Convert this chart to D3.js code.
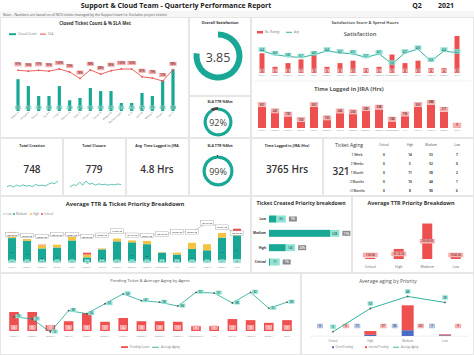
<!DOCTYPE html>
<html><head><meta charset="utf-8">
<script src="https://cdn.jsdelivr.net/npm/d3@7"></script>
<style>
html,body{margin:0;padding:0;background:#fff;}
svg{display:block;font-family:"Open Sans","Noto Sans",sans-serif;}
</style></head><body>
<svg id="c" width="474" height="355"></svg>
<script>
// ---------------- DATA ----------------
const agents = ["Abdul H","Ahmed A","Daniel T","Sajid S","Umer I","Mohsin A","Nabil S","Usman C","Samer R","Waqas M","Muhammad F","Ali R","Latif M","Wasay S","Ehsan I","Jalil S"];
const closedCount = [83,65,39,39,65,28,34,60,52,52,21,21,47,39,80,109];
const slaPct = [97,95,97,95,100,93,78,98,88,96,100,100,82,79,72,98];
const ratingsCount = [16,5,8,11,16,5,8,10,4,5,15,8,10,4,4,30];
const avgRating = [4.4,4.0,3.8,3.7,4.0,4.4,4.2,4.1,3.7,4.1,3.0,4.2,4.6,3.3,4.4,4.2];
const hoursLogged = [351,247,192,103,352,130,245,230,283,308,108,195,353,388,271,9];
const creationTrend = [48,52,47,53,49,54,50,52,48,55,51,53,50,56,60,58,66];
const closureTrend = [40,52,48,66,50,72,55,60,50,57,52,55,50,54,51,56,53];
const kpiLabels = ["Total Creation","Total Closure","Avg. Time Logged in JIRA","SLA TTR %Met","Time Logged in JIRA (Hrs)"];
const kpiValues = ["748","779","4.8 Hrs","99%","3765 Hrs"];
const overallSatisfaction = 3.85;
const slaTTRMet = 92;
const slaTTIRMet = 99;
const agingRows = ["1 Week","2 Weeks","1 Month","2 Months",">2 Months"];
const agingCols = ["Critical","High","Medium","Low"];
const agingCritical = [0,0,0,0,0];
const agingHigh = [14,5,11,10,8];
const agingMedium = [53,52,58,44,90];
const agingLow = [7,0,2,1,6];
const agingTotal = 321;
const prioLow = [5,4,3,4,5,2,3,5,4,4,2,2,4,4,6,8];
const prioMedium = [48,43,28,29,43,10,26,41,40,36,20,16,26,23,48,51];
const prioHigh = [12,4,7,6,8,6,2,6,4,7,1,4,13,13,10,9];
const prioCritical = [1,0,1,0,0,4,0,0,0,0,0,0,0,0,0,5];
const avgTTRAgent = [58,55,52,58,58,52,56,70,56,55,60,67,67,97,83,63];
const priorities = ["Critical","High","Medium","Low"];
const createdPriority = ["Low","Medium","High","Critical"];
const createdCount = [65,528,145,11];
const createdPct = ["9%","71%","20%","1%"];
const ttrPriorityHours = [7.85,65.24,230.0,29.76];
const pendingCount = [35,35,11,18,33,17,24,18,18,17,9,9,22,20,15,20];
const avgAgingAgent = [20,17,0,28,24,37,50,41,39,34,52,51,38,52,31,39];
const clientPending = [0,11,56,7];
const internalPending = [0,37,241,9];
const avgAgingPriority = [5,32,46,39];

// ---------------- HELPERS ----------------
const svg = d3.select("#c");
const TEAL="#1aa896", RED="#ee5050", PINK="#f6b1b1", LTEAL="#8fe2d4", YEL="#f5c244", BLUE="#4a6cc4", DARK="#333", GRAY="#666";
svg.append("rect").attr("width",474).attr("height",355).attr("fill","#e6e6e6");
function panel(x,y,w,h){ svg.append("rect").attr("x",x).attr("y",y).attr("width",w).attr("height",h).attr("fill","#fff"); }
function txt(x,y,s,size,o={}){
  return svg.append("text").attr("x",x).attr("y",y).attr("font-size",size)
    .attr("text-anchor",o.anchor||"middle").attr("dominant-baseline","central")
    .attr("font-weight",o.weight||"normal").attr("fill",o.fill||DARK).text(s);
}
function box(cx,cy,s,size,fill,tcol,o={}){
  const w = o.w || (String(s).length*size*0.62+2.2), h = o.h || size+1.8;
  svg.append("rect").attr("x",cx-w/2).attr("y",cy-h/2).attr("width",w).attr("height",h)
    .attr("fill",fill).attr("stroke",o.stroke||"none").attr("stroke-width",0.4);
  txt(cx,cy+0.2,s,size,{fill:tcol,weight:o.weight||"600"});
}
const fmtH = h => { const H=Math.floor(h), mm=(h-H)*60, M=Math.floor(mm), S=Math.round((mm-M)*60)%60;
  return H+":"+String(M).padStart(2,"0")+":"+String(S).padStart(2,"0"); };

// ---------------- HEADER ----------------
svg.append("rect").attr("x",0).attr("y",0).attr("width",474).attr("height",11).attr("fill","#fff");
svg.append("rect").attr("x",0).attr("y",11).attr("width",474).attr("height",6).attr("fill","#f6f6f6");
txt(176,5.5,"Support & Cloud Team - Quarterly Performance Report",7,{weight:"bold",fill:"#222"});
txt(417,5.5,"Q2",7,{weight:"bold",fill:"#222"});
txt(446,5.5,"2021",7,{weight:"bold",fill:"#222"});
txt(3,14.3,"Note: - Numbers are based on all NCS tickets managed by the Support team (ie. Excludes project tickets)",3.4,{anchor:"start",fill:"#555"});

// ---------------- PANELS ----------------
[[1,18,187,119],[190,18,60,77],[190,97,60,40],[252,18,221,119],
 [1,139,61,56],[64,139,61,56],[127,139,61,56],[190,139,60,56],[252,139,70,56],[324,139,149,56],
 [1,197,249,75],[252,197,99,75],[353,197,120,75],[1,274,299,80],[302,274,171,80]].forEach(p=>panel(...p));

// ---------------- P1 Closed ticket & SLA ----------------
txt(95,22.5,"Closed Ticket Count & % SLA Met",4.4,{weight:"bold",fill:"#333"});
svg.append("rect").attr("x",9).attr("y",33.2).attr("width",7).attr("height",2).attr("fill",TEAL);
txt(18,34.2,"Closed Count",3,{anchor:"start",fill:"#777"});
svg.append("rect").attr("x",40).attr("y",33.6).attr("width",6).attr("height",1).attr("fill",RED);
txt(48,34.2,"SLA",3,{anchor:"start",fill:"#777"});
const x1 = d3.scalePoint().domain(agents).range([18,173]);
const y1 = d3.scaleLinear().domain([0,120]).range([111,65]);
const y1s = d3.scaleLinear().domain([0,100]).range([112,69]);
svg.append("g").selectAll("rect").data(agents).join("rect")
  .attr("x",d=>x1(d)-1.6).attr("width",3.2).attr("y",(d,i)=>y1(closedCount[i])).attr("height",(d,i)=>111-y1(closedCount[i])).attr("fill",TEAL);
agents.forEach((a,i)=>box(x1(a),107.5,closedCount[i],2.6,LTEAL,"#1a5f55",{w:6,h:3.6}));
const l1 = d3.line().x((d,i)=>x1(agents[i])).y(d=>y1s(d));
svg.append("path").attr("d",l1(slaPct)).attr("fill","none").attr("stroke",RED).attr("stroke-width",0.9);
agents.forEach((a,i)=>{ svg.append("circle").attr("cx",x1(a)).attr("cy",y1s(slaPct[i])).attr("r",0.9).attr("fill",RED);
  box(x1(a),y1s(slaPct[i])-6,slaPct[i]+"%",2.7,PINK,"#7a2020",{h:4.2}); });
agents.forEach(a=>{ svg.append("text").attr("transform",`translate(${x1(a)+1},${113}) rotate(-40)`).attr("font-size",2.6)
  .attr("text-anchor","end").attr("fill","#777").text(a); });

// ---------------- P2 Overall Satisfaction ----------------
txt(220,22.5,"Overall Satisfaction",3.8,{weight:"bold"});
const arcBig = d3.arc().innerRadius(18.5).outerRadius(24.5).startAngle(0);
svg.append("path").attr("transform","translate(218,56)").attr("d",arcBig({endAngle:2*Math.PI*overallSatisfaction/5})).attr("fill",TEAL);
txt(218,57,overallSatisfaction.toFixed(2),12.5,{fill:"#444"});

// ---------------- P3 SLA TTR donut ----------------
txt(220,101,"SLA TTR %Met",3.6,{weight:"bold"});
function ring(cx,cy,r,pct){
  const a = d3.arc().innerRadius(r-3.2).outerRadius(r);
  svg.append("path").attr("transform",`translate(${cx},${cy})`).attr("d",a({startAngle:0,endAngle:2*Math.PI*pct/100})).attr("fill",TEAL);
  svg.append("path").attr("transform",`translate(${cx},${cy})`).attr("d",d3.arc().innerRadius(r-2.6).outerRadius(r+0.6)({startAngle:2*Math.PI*pct/100,endAngle:2*Math.PI})).attr("fill","#444");
  txt(cx,cy+0.5,pct+"%",9,{fill:"#444"});
}
ring(218,122,14.5,slaTTRMet);

// ---------------- P4 Satisfaction & Hours ----------------
txt(365,22.5,"Satisfaction Score & Spend Hours",4.2,{weight:"600"});
txt(360,33.5,"Satisfaction",5.8,{fill:"#555",weight:"600"});
svg.append("rect").attr("x",257).attr("y",31).attr("width",6).attr("height",2.5).attr("fill",RED);
txt(265,32.3,"No. Ratings",2.8,{anchor:"start",fill:"#777"});
svg.append("rect").attr("x",286).attr("y",31.8).attr("width",6).attr("height",0.9).attr("fill",TEAL);
txt(294,32.3,"Avg",2.8,{anchor:"start",fill:"#777"});
const x4 = d3.scalePoint().domain(agents).range([262,457]);
const y4 = d3.scaleLinear().domain([0,30]).range([73,36]);
const y4a = d3.scaleLinear().domain([2.5,5]).range([68.6,45.4]);
svg.append("g").selectAll("rect").data(agents).join("rect")
  .attr("x",d=>x4(d)-2.5).attr("width",5).attr("y",(d,i)=>y4(ratingsCount[i])).attr("height",(d,i)=>73-y4(ratingsCount[i])).attr("fill",RED);
agents.forEach((a,i)=>box(x4(a),70.5,ratingsCount[i],2.5,PINK,"#7a2020",{w:6,h:3.6}));
svg.append("path").attr("d",d3.line().x((d,i)=>x4(agents[i])).y(d=>y4a(d))(avgRating)).attr("fill","none").attr("stroke",TEAL).attr("stroke-width",0.9);
agents.forEach((a,i)=>{ svg.append("circle").attr("cx",x4(a)).attr("cy",y4a(avgRating[i])).attr("r",0.9).attr("fill",TEAL);
  box(x4(a),y4a(avgRating[i])-1.5,avgRating[i].toFixed(1),2.7,LTEAL,"#1a5f55",{w:7,h:4.4}); });
agents.forEach(a=>txt(x4(a),75.5,a,2.2,{fill:"#888"}));
svg.append("line").attr("x1",254).attr("x2",471).attr("y1",81).attr("y2",81).attr("stroke","#eee").attr("stroke-width",0.8);
txt(349,89,"Time Logged in JIRA (Hrs)",5.6,{weight:"bold",fill:"#555"});
const y4h = d3.scaleLinear().domain([0,400]).range([128,104]);
svg.append("g").selectAll("rect").data(agents).join("rect")
  .attr("x",d=>x4(d)-4).attr("width",8).attr("y",(d,i)=>y4h(hoursLogged[i])).attr("height",(d,i)=>128-y4h(hoursLogged[i])).attr("fill",RED);
agents.forEach((a,i)=>box(x4(a),y4h(hoursLogged[i])-2.5,hoursLogged[i],2.8,PINK,"#5a1515",{w:8.5,h:4.6}));
agents.forEach(a=>txt(x4(a),130.8,a,2.2,{fill:"#888"}));

// ---------------- ROW 2 KPI cards ----------------
const kx = [32,94,157,220,287];
kpiLabels.forEach((s,i)=>txt(kx[i],145,s,3.6,{weight:"bold"}));
[0,1,2,4].forEach(i=>txt(kx[i],168.5,kpiValues[i],10,{weight:"600",fill:"#333"}));
ring(218,171,15.5,slaTTIRMet);
function spark(data,x0,x1_){
  const sx = d3.scaleLinear().domain([0,data.length-1]).range([x0,x1_]);
  const sy = d3.scaleLinear().domain(d3.extent(data)).range([187,181]);
  svg.append("path").attr("d",d3.line().x((d,i)=>sx(i)).y(d=>sy(d))(data)).attr("fill","none").attr("stroke",TEAL).attr("stroke-width",0.7);
}
spark(creationTrend,7,58);
spark(closureTrend,70,121);
// Ticket aging table
txt(349,145,"Ticket Aging",5,{fill:"#333"});
txt(341,171,String(agingTotal),10,{weight:"600"});
const colX = [384,410,431,457];
agingCols.forEach((c,i)=>txt(colX[i],145,c,3,{fill:"#444"}));
const rowY = [155,164,173,182,190.5];
const tbl = [agingCritical,agingHigh,agingMedium,agingLow];
agingRows.forEach((r,j)=>{ txt(357,rowY[j],r,3.1,{fill:"#333",weight:"600"});
  tbl.forEach((col,i)=>txt(colX[i],rowY[j],col[j],3.1,{fill:"#333",weight:"bold"})); });

// ---------------- ROW 3: Avg TTR & priority breakdown ----------------
txt(125,204,"Average TTR & Ticket Priority Breakdown",5.8,{weight:"bold",fill:"#333"});
const legP = [["Low","#b8ddd7",3],["Medium",TEAL,13],["High",YEL,30],["Critical",RED,41]];
legP.forEach(([n,c,x])=>{ svg.append("circle").attr("cx",x+1).attr("cy",214).attr("r",1).attr("fill",c); txt(x+3,214.2,n,2.8,{anchor:"start",fill:"#777"}); });
const x11 = d3.scalePoint().domain(agents).range([12,237]);
const y11 = d3.scaleLinear().domain([0,100]).range([263,216]);
const stackKeys = ["low","medium","high","critical"], stackCols = ["#b8ddd7",TEAL,YEL,RED];
const stackData = agents.map((a,i)=>({a,low:prioLow[i],medium:prioMedium[i],high:prioHigh[i],critical:prioCritical[i]}));
const series = d3.stack().keys(stackKeys)(stackData);
series.forEach((s,k)=>{ svg.append("g").selectAll("rect").data(s).join("rect")
  .attr("x",d=>x11(d.data.a)-4).attr("width",8).attr("y",d=>y11(d[1])).attr("height",d=>y11(d[0])-y11(d[1])).attr("fill",stackCols[k]); });
series[1].forEach(d=>txt(x11(d.data.a),(y11(d[0])+y11(d[1]))/2+3,d.data.medium,2.5,{fill:"#0d4d44"}));
agents.forEach((a,i)=>box(x11(a),261,prioLow[i],2.3,LTEAL,"#1a5f55",{w:5,h:3.2}));
const y11t = d3.scaleLinear().domain([0,130]).range([252,213]);
svg.append("path").attr("d",d3.line().x((d,i)=>x11(agents[i])).y(d=>y11t(d))(avgTTRAgent)).attr("fill","none").attr("stroke","#999").attr("stroke-width",0.5);
agents.forEach((a,i)=>box(x11(a),y11t(avgTTRAgent[i]),fmtH(avgTTRAgent[i]+(i*7%10)/10+0.23),2.4,"#fff","#333",{stroke:"#999",w:13,h:4.4}));
agents.forEach(a=>txt(x11(a),267,a,2.2,{fill:"#888"}));

// Ticket Created Priority breakdown
txt(301,203,"Ticket Created Priority breakdown",5.2,{weight:"bold",fill:"#333"});
const y12 = d3.scalePoint().domain(createdPriority).range([219,262]);
const x12 = d3.scaleLinear().domain([0,528]).range([269,330]);
createdPriority.forEach((p,i)=>{
  const yy = y12(p);
  txt(266,yy,p,3.2,{anchor:"end",weight:"bold"});
  svg.append("rect").attr("x",269).attr("y",yy-3.5).attr("width",x12(createdCount[i])-269).attr("height",7).attr("fill",TEAL);
  const bx = x12(createdCount[i]);
  box(bx+4.7,yy,createdCount[i],2.8,LTEAL,"#1a5f55",{w:9.4,h:7});
  box(bx+9.4+7,yy,createdPct[i],2.8,"#8a8a8a","#fff",{w:8,h:5});
});

// Average TTR Priority Breakdown
txt(411,203,"Average TTR Priority Breakdown",5.4,{weight:"bold",fill:"#333"});
const x13 = d3.scaleBand().domain(priorities).range([356,470]);
const y13 = d3.scaleLinear().domain([0,240]).range([259,222]);
priorities.forEach((p,i)=>{
  const cx = x13(p)+x13.bandwidth()/2, top = y13(ttrPriorityHours[i]);
  svg.append("rect").attr("x",cx-5).attr("width",10).attr("y",top).attr("height",259-top).attr("fill",RED);
  box(cx,Math.min((top+259)/2,255),fmtH(ttrPriorityHours[i]),2.7,PINK,"#8a1f1f",{w:15,h:4.6});
  txt(cx,266,p,3.5,{fill:"#666"});
});

// ---------------- ROW 4 ----------------
txt(150,280.5,"Pending Ticket & Average Aging by Agent",4.2,{fill:"#555"});
const x14 = d3.scalePoint().domain(agents).range([14,287]);
const y14 = d3.scaleLinear().domain([0,70]).range([331,293]);
const y14a = d3.scaleLinear().domain([0,55]).range([332,290]);
svg.append("g").selectAll("rect").data(agents).join("rect")
  .attr("x",d=>x14(d)-4.8).attr("width",9.6).attr("y",(d,i)=>y14(pendingCount[i])).attr("height",(d,i)=>331-y14(pendingCount[i])).attr("fill",RED);
agents.forEach((a,i)=>box(x14(a),327.5,pendingCount[i],2.5,"#f59a9a","#fff",{w:6,h:4.2,stroke:"#fde0e0"}));
svg.append("path").attr("d",d3.line().x((d,i)=>x14(agents[i])).y(d=>y14a(d))(avgAgingAgent)).attr("fill","none").attr("stroke",TEAL).attr("stroke-width",0.8);
agents.forEach((a,i)=>{ svg.append("circle").attr("cx",x14(a)).attr("cy",y14a(avgAgingAgent[i])).attr("r",0.9).attr("fill","#555");
  box(x14(a)+4.5,y14a(avgAgingAgent[i])-0.5,avgAgingAgent[i],2.5,LTEAL,"#1a5f55",{w:6,h:4}); });
agents.forEach(a=>txt(x14(a),336,a,2.4,{fill:"#888"}));
svg.append("rect").attr("x",121).attr("y",346.2).attr("width",7).attr("height",1.8).attr("fill",RED);
txt(130,347.2,"Pending Count",2.8,{anchor:"start",fill:"#777"});
svg.append("rect").attr("x",152).attr("y",346.8).attr("width",7).attr("height",0.8).attr("fill",TEAL);
txt(161,347.2,"Average Aging",2.8,{anchor:"start",fill:"#777"});

txt(388,281,"Average aging by Priority",5,{fill:"#555"});
const x15 = d3.scalePoint().domain(priorities).range([333,445]);
const y15 = d3.scaleLinear().domain([0,300]).range([336,305]);
const y15a = d3.scaleLinear().domain([0,50]).range([336,293]);
svg.append("line").attr("x1",310).attr("x2",468).attr("y1",336.2).attr("y2",336.2).attr("stroke","#ddd").attr("stroke-width",0.5);
priorities.forEach((p,i)=>{
  const cx = x15(p);
  const yc = y15(clientPending[i]), yi = y15(clientPending[i]+internalPending[i]);
  svg.append("rect").attr("x",cx-6).attr("width",12).attr("y",yc).attr("height",336-yc).attr("fill",BLUE);
  svg.append("rect").attr("x",cx-6).attr("width",12).attr("y",yi).attr("height",yc-yi).attr("fill",RED);
  box(cx-13,326,clientPending[i],2.6,"#b7c3e3","#2a3f7a",{w:6,h:4.6});
  box(cx+13,326,internalPending[i],2.6,"#f6b5b5","#8a1f1f",{w:6.5,h:4.6});
  txt(cx,341,p,2.8,{fill:"#777"});
});
svg.append("path").attr("d",d3.line().x((d,i)=>x15(priorities[i])).y(d=>y15a(d))(avgAgingPriority)).attr("fill","none").attr("stroke",TEAL).attr("stroke-width",0.9);
priorities.forEach((p,i)=>{ svg.append("circle").attr("cx",x15(p)).attr("cy",y15a(avgAgingPriority[i])).attr("r",0.9).attr("fill","#555");
  box(x15(p),y15a(avgAgingPriority[i])-5,avgAgingPriority[i],2.6,LTEAL,"#1a5f55",{w:5.5,h:4.4}); });
svg.append("rect").attr("x",332).attr("y",346.2).attr("width",2).attr("height",2).attr("fill",BLUE);
txt(335.5,347.2,"Client Pending",2.6,{anchor:"start",fill:"#777"});
svg.append("rect").attr("x",365).attr("y",346.2).attr("width",2).attr("height",2).attr("fill",RED);
txt(368.5,347.2,"Internal Pending",2.6,{anchor:"start",fill:"#777"});
svg.append("rect").attr("x",393).attr("y",346.8).attr("width",6).attr("height",0.8).attr("fill",TEAL);
txt(401,347.2,"Average Aging",2.6,{anchor:"start",fill:"#777"});
</script>
</body></html>
